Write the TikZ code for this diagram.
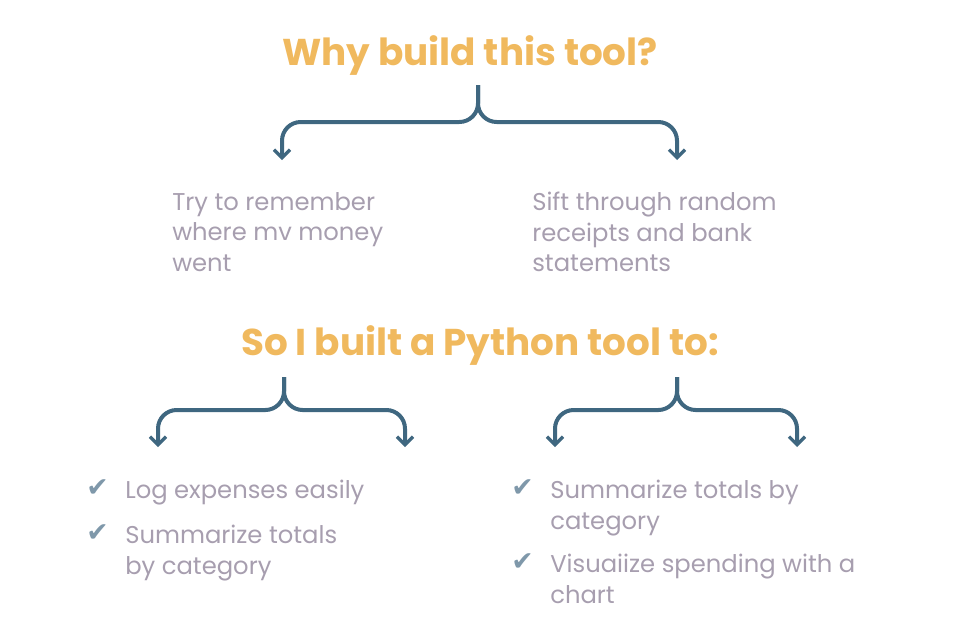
\documentclass[tikz,border=0pt]{standalone}
\usepackage{fontspec}
\setmainfont{Poppins}
\newfontfamily\djv{DejaVu Sans}
\usetikzlibrary{arrows.meta}
\definecolor{ttl}{HTML}{F0B95E}
\definecolor{ln}{HTML}{3F6780}
\definecolor{txt}{HTML}{A79EAF}
\definecolor{chk}{HTML}{7F98AA}
\begin{document}
\begin{tikzpicture}[x=0.75pt,y=-0.75pt,
  title/.style={text=ttl,font=\fontsize{28}{32}\selectfont\bfseries},
  body/.style={text=txt,font=\fontsize{18.2}{22.8}\selectfont,anchor=north west,align=left,inner sep=0pt},
  conn/.style={draw=ln,line width=3pt,rounded corners=14pt,-{Straight Barb[length=6pt,width=12pt,line width=2.5pt]}},
  tick/.style={text=chk,font=\djv\fontsize{20}{22}\selectfont,anchor=north west,inner sep=0pt}]
\useasboundingbox (0,0) rectangle (960,640);
\node[title] (t1) at (470,55) {Why build this tool?};
\coordinate (s1) at (478,85);
\coordinate (e1) at (282,160);
\coordinate (e2) at (677,160);
\draw[conn] (s1) -- (478,122) -| (e1);
\draw[conn] (s1) -- (478,122) -| (e2);
\node[body] (a) at (172,192) {Try to remember\\where mv money\\went};
\node[body] (b) at (532,192) {Sift through random\\receipts and bank\\statements};
\node[title] (t2) at (480,345) {So I built a Python tool to:};
\coordinate (s2) at (284,377);
\coordinate (s3) at (677,377);
\coordinate (l1) at (158,447);
\coordinate (l2) at (405,447);
\coordinate (r1) at (555,447);
\coordinate (r2) at (797,447);
\draw[conn] (s2) -- (284,410) -| (l1);
\draw[conn] (s2) -- (284,410) -| (l2);
\draw[conn] (s3) -- (677,410) -| (r1);
\draw[conn] (s3) -- (677,410) -| (r2);
\node[tick] (c1) at (86,479) {✔};
\node[body] (i1) at (125,480) {Log expenses easily};
\node[tick] (c2) at (86,524) {✔};
\node[body] (i2) at (125,525) {Summarize totals\\by category};
\node[tick] (c3) at (511,479) {✔};
\node[body] (i3) at (550,480) {Summarize totals by\\category};
\node[tick] (c4) at (511,553) {✔};
\node[body] (i4) at (550,554) {Visuaiize spending with a\\chart};
\end{tikzpicture}
\end{document}
